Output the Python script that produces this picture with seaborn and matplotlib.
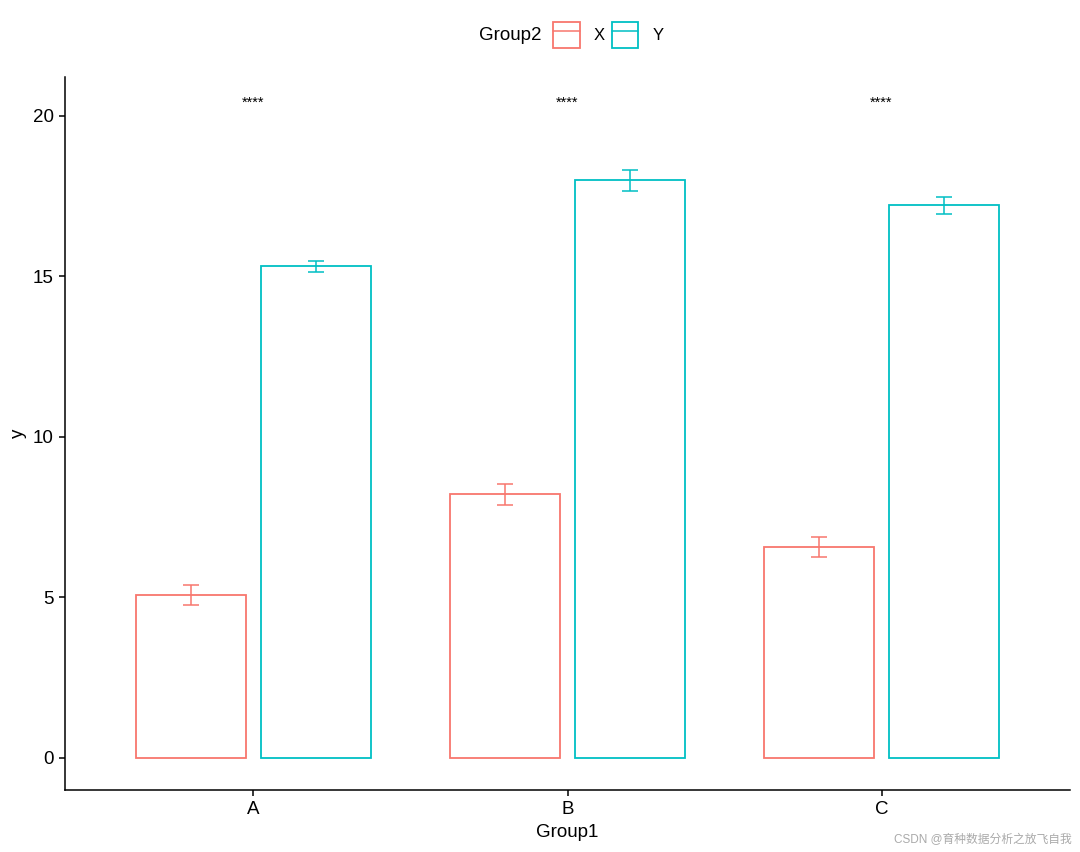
import pandas as pd
import numpy as np
import matplotlib.pyplot as plt
import seaborn as sns
from matplotlib.patches import Rectangle
from matplotlib.lines import Line2D
from matplotlib.legend_handler import HandlerTuple

# values
groups1 = ['A', 'B', 'C']
groups2 = ['X', 'Y']
means_x = [5.07, 8.21, 6.56]
means_y = [15.30, 17.98, 17.20]
se_x = [0.31, 0.33, 0.31]
se_y = [0.17, 0.33, 0.26]
signif = ['****', '****', '****']
star_y = 20.4

colors = {'X': '#F8766D', 'Y': '#00BFC4'}

df = pd.DataFrame({
    'Group1': groups1 * 2,
    'Group2': ['X'] * 3 + ['Y'] * 3,
    'y': means_x + means_y,
    'se': se_x + se_y,
})

sns.set_theme(style='ticks')
plt.rcParams['font.family'] = ['Liberation Sans', 'Noto Sans CJK SC', 'DejaVu Sans']
plt.rcParams['text.color'] = 'black'
plt.rcParams['axes.labelcolor'] = 'black'

fig = plt.figure(figsize=(10.8, 8.52), dpi=100)
ax = fig.add_axes([65 / 1080, 62 / 852, 1005 / 1080, 713 / 852])

sns.barplot(data=df, x='Group1', y='y', hue='Group2', order=groups1,
            hue_order=groups2, palette=colors, fill=False, width=0.8,
            gap=0.125, linewidth=1.3, errorbar=None, legend=False, ax=ax)

# error bars at the bar centres
for i, g in enumerate(groups2):
    sub = df[df.Group2 == g].set_index('Group1').loc[groups1]
    bars = ax.containers[i]
    xs = [b.get_x() + b.get_width() / 2 for b in bars]
    ax.errorbar(xs, sub['y'], yerr=sub['se'], fmt='none',
                ecolor=colors[g], elinewidth=1.1, capsize=5.8, capthick=1.1)

for i, s in enumerate(signif):
    ax.text(i, star_y, s, ha='center', va='center', fontsize=10.5, color='black')

ax.set_xlim(-0.6, 2.6)
ax.set_ylim(-1.0, 21.2)
ax.set_yticks([0, 5, 10, 15, 20])
ax.tick_params(labelsize=13.5, length=4.5, width=1.1, colors='black')
ax.set_xlabel('Group1', fontsize=13.5, color='black')
ax.set_ylabel('y', fontsize=13.5, color='black')
sns.despine(ax=ax)
for sp in ['left', 'bottom']:
    ax.spines[sp].set_linewidth(1.1)
    ax.spines[sp].set_color('black')

handles = []
for g in groups2:
    box = Rectangle((0, 0), 1, 1, facecolor='white', edgecolor=colors[g], linewidth=1.3)
    ln = Line2D([0], [0], color=colors[g], linewidth=1.1)
    handles.append((box, ln))
fig.legend(handles, groups2, loc='center left', bbox_to_anchor=(538 / 1080, 1 - 35 / 852),
           ncol=2, frameon=False, fontsize=12, handlelength=1.6, handleheight=2.0,
           handletextpad=0.84, columnspacing=0.42,
           handler_map={tuple: HandlerTuple(ndivide=1, pad=0)})
fig.text(541 / 1080, 1 - 35 / 852, 'Group2', ha='right', va='center', fontsize=13.5, color='black')

fig.text(1072 / 1080, 1 - 840 / 852, 'CSDN @育种数据分析之放飞自我', ha='right', va='center',
         fontsize=8.5, color='#aaaaaa')

fig.savefig('out.png', dpi=100)
